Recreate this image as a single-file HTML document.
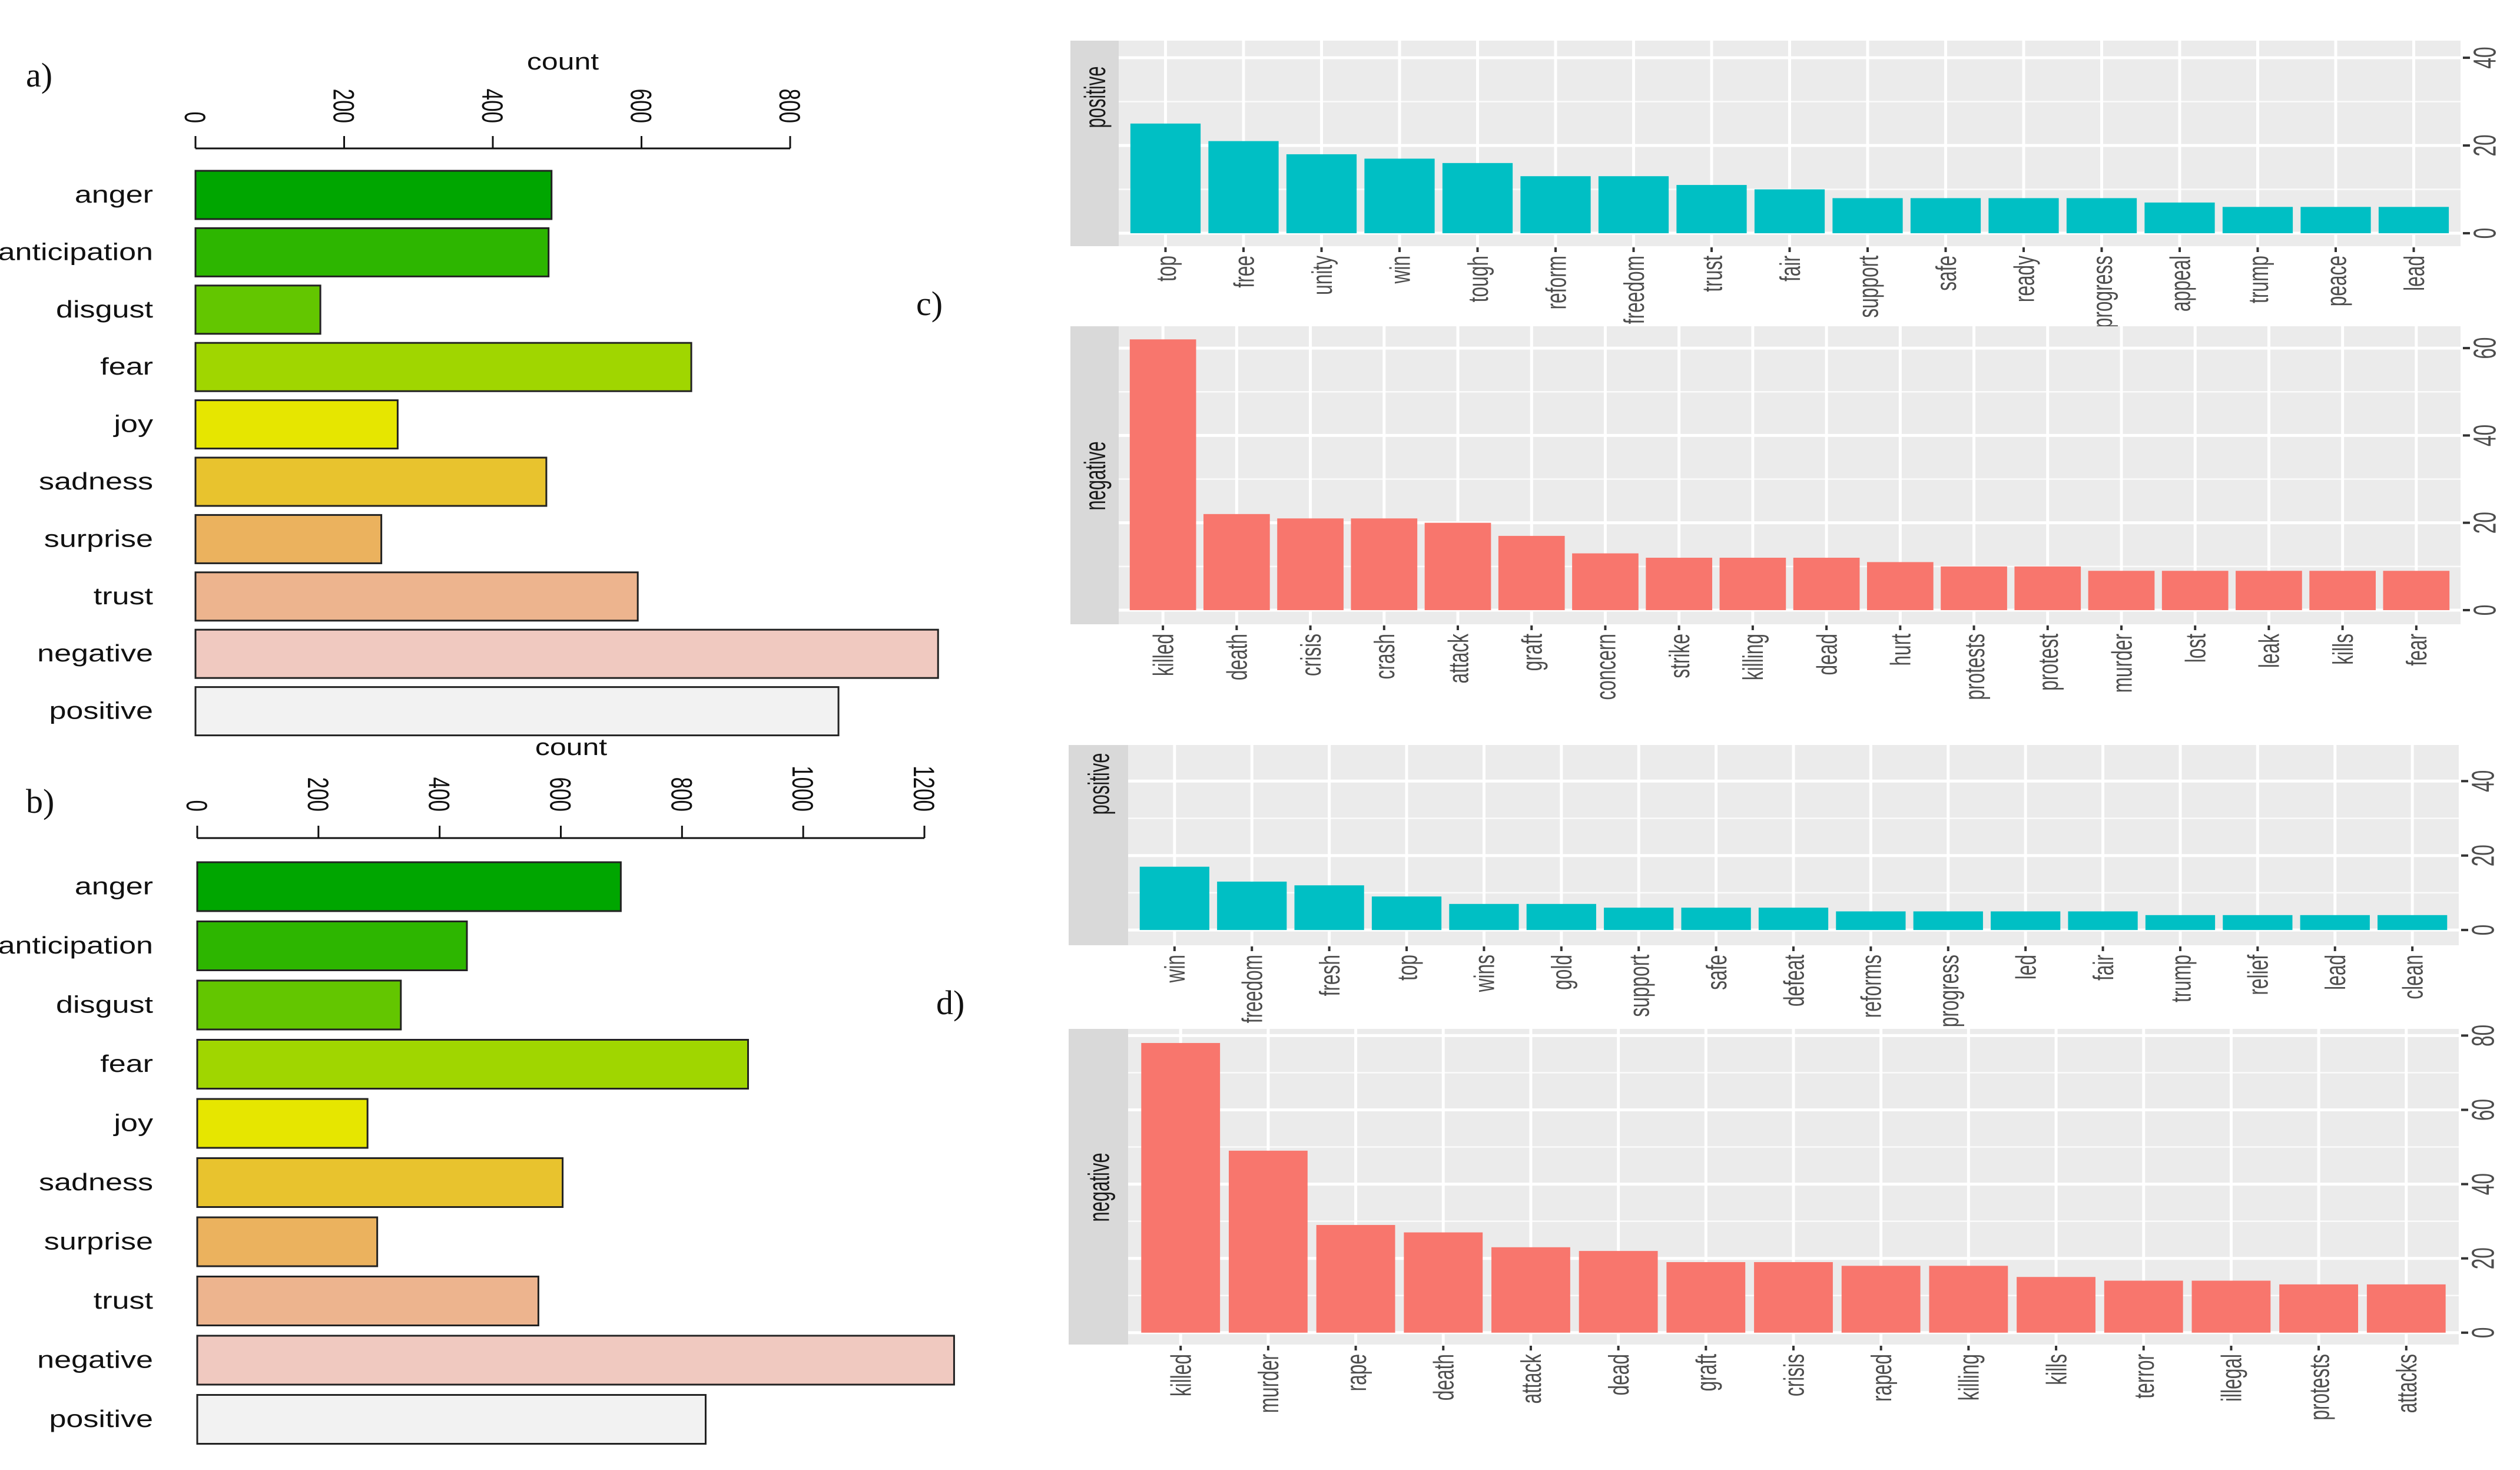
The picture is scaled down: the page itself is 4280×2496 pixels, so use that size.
<!DOCTYPE html>
<html><head><meta charset="utf-8"><style>
html,body{margin:0;padding:0;background:#fff;}
svg{display:block;}
text{font-family:"Liberation Sans",sans-serif;}
</style></head><body>
<svg id="fig" width="4280" height="2496" viewBox="0 0 4280 2496" xmlns="http://www.w3.org/2000/svg"></svg>
<script>
// ---------- data ----------
const emotions = ["anger","anticipation","disgust","fear","joy","sadness","surprise","trust","negative","positive"];
const emoColors = ["#00A600","#2DB600","#63C600","#A0D600","#E6E600","#E8C32E","#EBB25E","#EDB48E","#F0C9C0","#F2F2F2"];
const countsA = [479,475,168,667,272,472,250,595,999,865];
const ticksA = [0,200,400,600,800];
const countsB = [699,445,336,909,281,603,297,563,1249,839];
const ticksB = [0,200,400,600,800,1000,1200];

const cPosWords = ["top","free","unity","win","tough","reform","freedom","trust","fair","support","safe","ready","progress","appeal","trump","peace","lead"];
const cPosVals = [25,21,18,17,16,13,13,11,10,8,8,8,8,7,6,6,6];
const cNegWords = ["killed","death","crisis","crash","attack","graft","concern","strike","killing","dead","hurt","protests","protest","murder","lost","leak","kills","fear"];
const cNegVals = [62,22,21,21,20,17,13,12,12,12,11,10,10,9,9,9,9,9];
const dPosWords = ["win","freedom","fresh","top","wins","gold","support","safe","defeat","reforms","progress","led","fair","trump","relief","lead","clean"];
const dPosVals = [17,13,12,9,7,7,6,6,6,5,5,5,5,4,4,4,4];
const dNegWords = ["killed","murder","rape","death","attack","dead","graft","crisis","raped","killing","kills","terror","illegal","protests","attacks"];
const dNegVals = [78,49,29,27,23,22,19,19,18,18,15,14,14,13,13];
const ticks40 = [0,20,40];
const ticks60 = [0,20,40,60];
const ticks80 = [0,20,40,60,80];

// ---------- helpers ----------
const NS = "http://www.w3.org/2000/svg";
const svg = document.getElementById("fig");
function mk(tag, attrs, parent){
  const e = document.createElementNS(NS, tag);
  for (const k in attrs) e.setAttribute(k, attrs[k]);
  (parent||svg).appendChild(e);
  return e;
}
function txt(str, attrs, parent){
  const e = mk("text", attrs, parent);
  e.textContent = str;
  return e;
}

// ---------- base R horizontal barplots ----------
function basePanel(cfg){
  const g = mk("g", {});
  
  
  const maxT = cfg.ticks[cfg.ticks.length-1];
  const xs = v => cfg.x0 + (v / maxT) * cfg.axisW;
  const ax = mk("line", {x1:xs(0), x2:xs(maxT), y1:cfg.axisY, y2:cfg.axisY, stroke:"#111", "stroke-width":3}, g);
  
  
  cfg.ticks.forEach(t => {
    const tk = mk("line", {x1:xs(t), x2:xs(t), y1:cfg.axisY, y2:cfg.axisY-21, stroke:"#111", "stroke-width":3}, g);
    
    
    const tl = txt(String(t), {transform:`translate(${xs(t)},${cfg.labEnd}) rotate(90) scale(0.7,1)`, "text-anchor":"end", dy:"0.36em", "font-size":50, fill:"#111"}, g);
    
    
  });
  const ct = txt("count", {transform:`translate(${cfg.countX},${cfg.countY}) scale(1.25,1)`, "text-anchor":"middle", "font-size":40, fill:"#111"}, g);
  
  
  emotions.forEach((em, i) => {
    const y = cfg.barTop + i * cfg.pitch;
    const r = mk("rect", {x:xs(0), y:y, width:xs(cfg.vals[i]) - xs(0), height:cfg.barH, fill:emoColors[i], stroke:"#222", "stroke-width":3}, g);
    
    
    const l = txt(em, {transform:`translate(260,${y + cfg.barH/2 + 13}) scale(1.27,1)`, "text-anchor":"end", "font-size":41, fill:"#111"}, g);
    
    
  });
}
basePanel({name:"panel-a", vals:countsA, ticks:ticksA, x0:332, axisW:1010, axisY:252, labEnd:209, countX:956, countY:118, barTop:290, pitch:97.4, barH:82});
basePanel({name:"panel-b", vals:countsB, ticks:ticksB, x0:335, axisW:1235, axisY:1423, labEnd:1378, countX:970, countY:1282, barTop:1464, pitch:100.5, barH:83});

// panel letters
[["a)",44,147],["b)",44,1380],["c)",1556,535],["d)",1590,1722]].forEach(p => {
  const t = txt(p[0], {x:p[1], y:p[2], style:"font-family:'Liberation Serif',serif", "font-size":58, fill:"#111"});
  
  
});

// ---------- ggplot facets ----------
function ggPanel(cfg){
  const g = mk("g", {});
  
  
  const n = cfg.words.length;
  const step = (cfg.right - cfg.left) / (n - 1 + 1.2);
  const xc = i => cfg.left + (0.6 + i) * step;
  const ys = v => cfg.bottom - (v - cfg.lo) / (cfg.hi - cfg.lo) * (cfg.bottom - cfg.top);
  const strip = mk("rect", {x:cfg.stripL, y:cfg.top, width:cfg.left - cfg.stripL, height:cfg.bottom - cfg.top, fill:"#D9D9D9"}, g);
  
  
  const st = txt(cfg.label, {transform:`translate(${(cfg.stripL+cfg.left)/2},${cfg.stripY}) rotate(-90) scale(0.62,1)`, "text-anchor":"middle", dy:"0.36em", "font-size":50, fill:"#1A1A1A"}, g);
  
  
  const bg = mk("rect", {x:cfg.left, y:cfg.top, width:cfg.right - cfg.left, height:cfg.bottom - cfg.top, fill:"#EBEBEB"}, g);
  
  
  for (let k = 0; k < cfg.ticks.length; k++){
    const mv = cfg.ticks[k] + 10;
    if (ys(mv) > cfg.top) {
      const ml = mk("line", {x1:cfg.left, x2:cfg.right, y1:ys(mv), y2:ys(mv), stroke:"#fff", "stroke-width":2.5, opacity:0.8}, g);
      
      
    }
  }
  cfg.ticks.forEach(t => {
    const gl = mk("line", {x1:cfg.left, x2:cfg.right, y1:ys(t), y2:ys(t), stroke:"#fff", "stroke-width":5}, g);
    
    
    const tk = mk("line", {x1:cfg.right + 4, x2:cfg.right + 16, y1:ys(t), y2:ys(t), stroke:"#333", "stroke-width":4}, g);
    
    
    const tl = txt(String(t), {transform:`translate(${cfg.right + 40},${ys(t)}) rotate(-90) scale(0.62,1)`, "text-anchor":"middle", dy:"0.36em", "font-size":54, fill:"#4D4D4D"}, g);
    
    
  });
  cfg.words.forEach((w, i) => {
    const vl = mk("line", {x1:xc(i), x2:xc(i), y1:cfg.top, y2:cfg.bottom, stroke:"#fff", "stroke-width":5}, g);
    
    
  });
  cfg.words.forEach((w, i) => {
    const bw = step * 0.9;
    const b = mk("rect", {x:xc(i) - bw/2, y:ys(cfg.vals[i]), width:bw, height:ys(0) - ys(cfg.vals[i]), fill:cfg.color}, g);
    
    
    const tk = mk("line", {x1:xc(i), x2:xc(i), y1:cfg.bottom + 2, y2:cfg.bottom + 10, stroke:"#333", "stroke-width":4}, g);
    
    
    const tl = txt(w, {transform:`translate(${xc(i)},${cfg.bottom + 16}) rotate(-90) scale(0.66,1)`, "text-anchor":"end", dy:"0.36em", "font-size":48, fill:"#4D4D4D"}, g);
    
    
  });
}
ggPanel({name:"panel-c-positive", label:"positive", words:cPosWords, vals:cPosVals, color:"#00BFC4", ticks:ticks40, left:1900, right:4179, top:69, bottom:418, lo:-2.95, hi:43.9, stripL:1818, stripY:165});
ggPanel({name:"panel-c-negative", label:"negative", words:cNegWords, vals:cNegVals, color:"#F8766D", ticks:ticks60, left:1900, right:4179, top:554, bottom:1060, lo:-3.24, hi:65, stripL:1818, stripY:808});
ggPanel({name:"panel-d-positive", label:"positive", words:dPosWords, vals:dPosVals, color:"#00BFC4", ticks:ticks40, left:1916, right:4176, top:1265, bottom:1605, lo:-4.1, hi:49.7, stripL:1815, stripY:1331});
ggPanel({name:"panel-d-negative", label:"negative", words:dNegWords, vals:dNegVals, color:"#F8766D", ticks:ticks80, left:1916, right:4176, top:1747, bottom:2283, lo:-3.2, hi:81.8, stripL:1815, stripY:2016});
</script>
</body></html>
